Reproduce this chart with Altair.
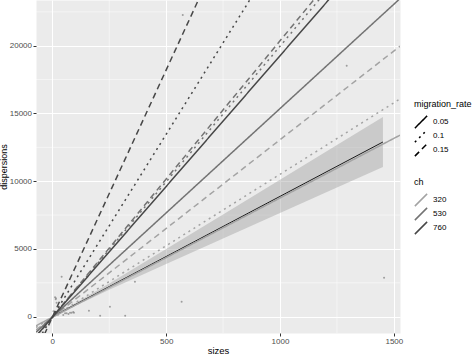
import altair as alt
import pandas as pd

# ---- data ----
line_ch = ["320", "320", "320", "530", "530", "530", "760", "760", "760"]
line_rate = ["0.05", "0.1", "0.15", "0.05", "0.1", "0.15", "0.05", "0.1", "0.15"]
line_slope = [8.8, 10.55, 13.1, 15.4, 20.0, 20.4, 19.3, 27.0, 36.5]
line_intercept = [-40, -40, -40, -40, -40, -40, -40, -40, -40]

pt_x = [573, 1293, 568, 1457, 41, 363, 253, 210, 320, 161, 95, 71, 48, 15, 19,
        78, 92, 56, 12, 16, 63, 85, 5, 30, 25]
pt_y = [22266, 18524, 1107, 2878, 2952, 2583, 738, 74, 74, 443, 295, 200, 125,
        1284, 1033, 295, 347, 251, 1432, 1358, 251, 295, 400, 600, 150]

smooth_x = [0, 100, 250, 500, 750, 1000, 1250, 1452]
smooth_y = [0, 888, 2220, 4440, 6660, 8880, 11100, 12894]
smooth_lo = [-88, 783, 1990, 3885, 5770, 7650, 9530, 11044]
smooth_hi = [88, 993, 2450, 4995, 7550, 10110, 12670, 14744]

x_ticks = [0, 500, 1000, 1500]
y_ticks = [0, 5000, 10000, 15000, 20000]
x_minor = [250, 750, 1250]
y_minor = [2500, 7500, 12500, 17500, 22500]

ch_levels = ["320", "530", "760"]
ch_colors = ["#a3a3a3", "#737373", "#474747"]
rate_levels = ["0.05", "0.1", "0.15"]
rate_dashes = [[1, 0], [2, 4], [6, 4]]

X_DOMAIN = [-71.6, 1527]
Y_DOMAIN = [-1203, 23373]

FONT = "Liberation Sans"

# ---- tables ----
rows = []
for c, r, s, b in zip(line_ch, line_rate, line_slope, line_intercept):
    for xv in X_DOMAIN:
        rows.append({"ch": c, "migration_rate": r, "x": xv, "y": b + s * xv})
lines_df = pd.DataFrame(rows)
pts_df = pd.DataFrame({"x": pt_x, "y": pt_y})
smooth_df = pd.DataFrame({"x": smooth_x, "y": smooth_y, "lo": smooth_lo, "hi": smooth_hi})
xminor_df = pd.DataFrame({"x": x_minor})
yminor_df = pd.DataFrame({"y": y_minor})

xs = alt.Scale(domain=X_DOMAIN, nice=False, zero=False)
ys = alt.Scale(domain=Y_DOMAIN, nice=False, zero=False)
xaxis = alt.Axis(values=x_ticks, title="sizes", format="d", titleFontSize=9.5,
                 titlePadding=0, labelPadding=1)
yaxis = alt.Axis(values=y_ticks, title="dispersions", format="d", titleFontSize=9)

X = alt.X("x:Q", scale=xs, axis=xaxis)
Y = alt.Y("y:Q", scale=ys, axis=yaxis)

xminor = alt.Chart(xminor_df).mark_rule(color="white", strokeWidth=0.5).encode(x=X)
yminor = alt.Chart(yminor_df).mark_rule(color="white", strokeWidth=0.5).encode(y=Y)

points = alt.Chart(pts_df).mark_circle(size=4, color="#8a8a8a", opacity=0.8).encode(x=X, y=Y)

ribbon = alt.Chart(smooth_df).mark_area(color="#999999", opacity=0.4).encode(
    x=X, y=alt.Y("lo:Q", scale=ys, axis=yaxis), y2="hi:Q"
)
smooth = alt.Chart(smooth_df).mark_line(color="#1a1a1a", strokeWidth=1).encode(x=X, y=Y)

legend_common = dict(
    orient="none", legendX=378,
    symbolType="M-1,1L1,-1", symbolSize=150, symbolStrokeWidth=1.5,
    clipHeight=14,
    titleFontSize=9, labelFontSize=8, titleFont=FONT, labelFont=FONT,
    titleFontWeight="normal", titlePadding=6, rowPadding=0, labelOffset=5,
    labelColor="black", titleColor="black",
)

lines = alt.Chart(lines_df).mark_line(clip=True, strokeWidth=1.5).encode(
    x=X,
    y=Y,
    color=alt.Color(
        "ch:N",
        scale=alt.Scale(domain=ch_levels, range=ch_colors),
        legend=alt.Legend(title="ch", legendY=178, **legend_common),
    ),
    strokeDash=alt.StrokeDash(
        "migration_rate:N",
        scale=alt.Scale(domain=rate_levels, range=rate_dashes),
        legend=alt.Legend(title="migration_rate", legendY=100,
                          symbolStrokeColor="black", **legend_common),
    ),
)

chart = alt.layer(xminor, yminor, points, ribbon, smooth, lines).properties(
    width=364,
    height=333,
    autosize=alt.AutoSizeParams(type="none"),
    padding={"left": 36, "top": 0, "right": 74, "bottom": 22},
).configure_view(
    fill="#EBEBEB", stroke="transparent"
).configure_axis(
    grid=True, gridColor="white", gridWidth=1,
    domain=False, tickColor="#333333", tickSize=3, tickWidth=1,
    labelFont=FONT, labelFontSize=8, labelColor="#4d4d4d", labelPadding=1.5,
    titleFont=FONT, titleFontSize=10, titleColor="black", titleFontWeight="normal",
    titlePadding=1,
)

chart.save("out.html", embed_options={"renderer": "svg", "actions": False})
